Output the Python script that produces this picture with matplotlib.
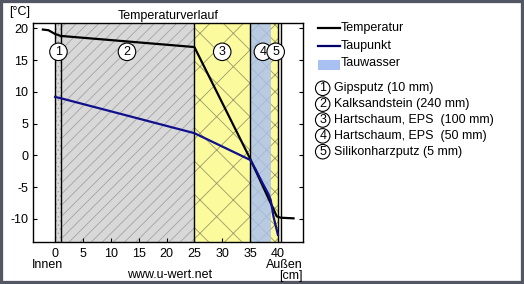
import matplotlib
matplotlib.use('Agg')
import matplotlib.pyplot as plt
from matplotlib.lines import Line2D
from matplotlib.patches import Rectangle
import numpy as np

plt.rcParams['font.family'] = ['Liberation Sans', 'DejaVu Sans']
plt.rcParams['axes.unicode_minus'] = False
plt.rcParams['hatch.linewidth'] = 0.6

# Schichtaufbau (innen -> aussen)
schicht_namen = ['Gipsputz (10 mm)', 'Kalksandstein (240 mm)', 'Hartschaum, EPS  (100 mm)',
                 'Hartschaum, EPS  (50 mm)', 'Silikonharzputz (5 mm)']
schicht_dicke_cm = [1.0, 24.0, 10.0, 5.0, 0.5]
schicht_farben = ['#dadada', '#d8d8d8', '#fbfa9c', '#fbfa9c', '#fbfbe8']
schicht_hatch = ['....', '///', 'x', 'xx', '']
hatch_farben = ['#a8a8a8', '#a4a4a4', '#9a9a6a', '#9a9a6a', '#9a9a6a']
kreis_x = [0.6, 12.9, 30.0, 37.3, 39.6]
kreis_y = 16.3

tauwasser_bereich = (35.0, 38.7)

# Temperaturverlauf und Taupunkt
temp_x = [-2.2, -1.2, -0.4, 0.0, 1.0, 25.0, 35.0, 39.8, 40.5, 42.8]
temp_y = [19.8, 19.7, 19.3, 19.1, 18.8, 17.05, -0.5, -9.6, -9.8, -9.9]
tau_x = [0.0, 1.0, 25.0, 35.0, 36.0, 36.9, 38.3, 38.7, 39.2, 40.0]
tau_y = [9.2, 9.0, 3.5, -0.7, -2.2, -3.8, -6.1, -7.0, -9.6, -12.5]

x_ticks = np.arange(0, 45, 5)
y_ticks = np.arange(-10, 25, 5)

W, H = 524, 284
def fx(x):
    return x / W
def fy(y):
    return 1 - y / H

fs = 9
fig = plt.figure(figsize=(W / 100, H / 100), dpi=100)
ax = fig.add_axes([fx(32.5), fy(242.3), (303 - 32.5) / W, (242.3 - 22.7) / H])

ymin, ymax = -13.67, 20.88
grenzen = np.concatenate([[0], np.cumsum(schicht_dicke_cm)])
for i in range(len(schicht_dicke_cm)):
    ax.add_patch(Rectangle((grenzen[i], ymin), schicht_dicke_cm[i], ymax - ymin,
                           facecolor=schicht_farben[i], edgecolor=hatch_farben[i],
                           hatch=schicht_hatch[i], lw=0, zorder=1))
ax.add_patch(Rectangle((tauwasser_bereich[0], ymin), tauwasser_bereich[1] - tauwasser_bereich[0],
                       ymax - ymin, facecolor='#a9c0f2', alpha=0.8, lw=0, zorder=2))
for g in grenzen:
    ax.axvline(g, color='black', lw=1, zorder=3)

ax.plot(temp_x, temp_y, color='black', lw=1.6, zorder=4)
ax.plot(tau_x, tau_y, color='#10108c', lw=1.6, zorder=4)

for i, xk in enumerate(kreis_x):
    ax.text(xk, kreis_y, str(i + 1), ha='center', va='center', fontsize=fs, zorder=6,
            bbox=dict(boxstyle='circle,pad=0.22', fc='white', ec='black', lw=0.8))

ax.set_xlim(-4.06, 44.5)
ax.set_ylim(ymin, ymax)
ax.set_xticks(x_ticks)
ax.set_yticks(y_ticks)
ax.tick_params(direction='in', length=3, labelsize=fs, right=True, pad=3)
ax.tick_params(axis='x', pad=4)
for s in ax.spines.values():
    s.set_linewidth(1)
ax.set_title('Temperaturverlauf', fontsize=fs, pad=3)

fig.text(fx(9), fy(11.7), '[°C]', fontsize=fs, va='center', ha='left')
fig.text(fx(32), fy(265), 'Innen', fontsize=fs, va='center', ha='left')
fig.text(fx(303), fy(265), 'Außen', fontsize=fs, va='center', ha='right')
fig.text(fx(303), fy(276), '[cm]', fontsize=fs, va='center', ha='right')
fig.text(fx(170), fy(275), 'www.u-wert.net', fontsize=fs, va='center', ha='center')

# Legende
fig.add_artist(Line2D([fx(318), fx(340)], [fy(28.3), fy(28.3)], color='black', lw=1.6))
fig.text(fx(341), fy(28.3), 'Temperatur', fontsize=fs, va='center')
fig.add_artist(Line2D([fx(318), fx(340)], [fy(46), fy(46)], color='#000066', lw=1.6))
fig.text(fx(341), fy(46), 'Taupunkt', fontsize=fs, va='center')
fig.add_artist(Rectangle((fx(318), fy(70)), 22 / W, 10 / H, transform=fig.transFigure,
                         facecolor='#a9c0f2', lw=0))
fig.text(fx(341), fy(63), 'Tauwasser', fontsize=fs, va='center')
for i, name in enumerate(schicht_namen):
    y = 88.3 + i * 15.85
    fig.text(fx(322.7), fy(y), str(i + 1), fontsize=fs, ha='center', va='center',
             bbox=dict(boxstyle='circle,pad=0.1', fc='white', ec='black', lw=0.8))
    fig.text(fx(334), fy(y), name, fontsize=fs, va='center')

# Rahmen
fig.add_artist(Rectangle((0, 0), 1, 1, transform=fig.transFigure, fill=False,
                         edgecolor='#525763', lw=4.5))

fig.savefig('out.png', dpi=100)
